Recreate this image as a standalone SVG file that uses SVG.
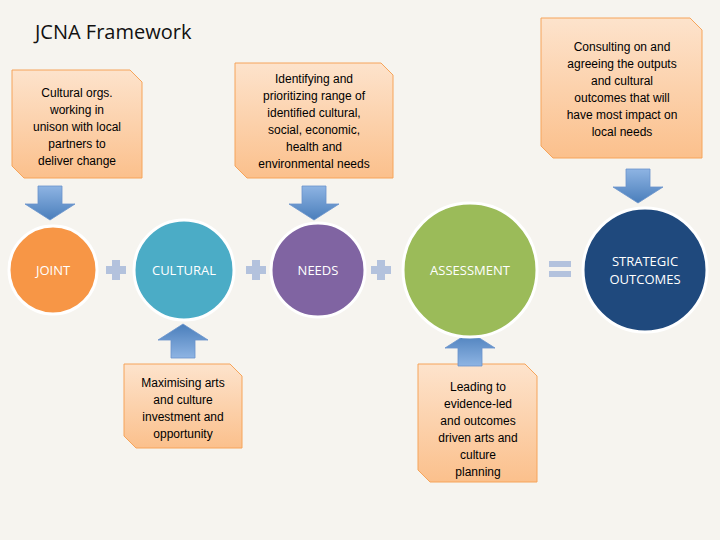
<svg xmlns="http://www.w3.org/2000/svg" width="720" height="540" viewBox="0 0 720 540">
<defs>
<linearGradient id="ng" x1="0" y1="0" x2="0" y2="1"><stop offset="0" stop-color="#fde3cc"/><stop offset="1" stop-color="#fbc08c"/></linearGradient>
<linearGradient id="ag" x1="0" y1="0" x2="0" y2="1"><stop offset="0" stop-color="#8eb4e3"/><stop offset="1" stop-color="#4a7ebb"/></linearGradient>
<linearGradient id="ug" x1="0" y1="1" x2="0" y2="0"><stop offset="0" stop-color="#8eb4e3"/><stop offset="1" stop-color="#4a7ebb"/></linearGradient>
</defs>
<style>
.note{fill:url(#ng);stroke:#f6a45a;stroke-width:1}
.nt{font-family:"Liberation Sans",Arial,sans-serif;font-size:12px;fill:#000;text-anchor:middle}
.ct{font-family:"Open Sans","Liberation Sans",sans-serif;font-size:13px;fill:#fff;text-anchor:middle}
.circ{stroke:#fff;stroke-width:3}
.op{fill:#b3c2dd}
</style>
<rect width="720" height="540" fill="#f6f4ef"/>
<text x="35" y="39" font-family="Open Sans,Liberation Sans,sans-serif" font-size="20" fill="#111">JCNA Framework</text>
<g id="note1"><path class="note" d="M12 70H130L142 82V178H24L12 166Z"/>
<text class="nt"><tspan x="77" y="97">Cultural orgs.</tspan><tspan x="77" y="114">working in</tspan><tspan x="77" y="131">unison with local</tspan><tspan x="77" y="148">partners to</tspan><tspan x="77" y="165">deliver change</tspan></text></g>
<g id="note2"><path class="note" d="M235 63H381L393 75V178H247L235 166Z"/>
<text class="nt"><tspan x="314" y="83">Identifying and</tspan><tspan x="314" y="100">prioritizing range of</tspan><tspan x="314" y="117">identified cultural,</tspan><tspan x="314" y="134">social, economic,</tspan><tspan x="314" y="151">health and</tspan><tspan x="314" y="168">environmental needs</tspan></text></g>
<g id="note3"><path class="note" d="M541 18H690L702 30V158H553L541 146Z"/>
<text class="nt"><tspan x="622" y="51">Consulting on and</tspan><tspan x="622" y="68">agreeing the outputs</tspan><tspan x="622" y="85">and cultural</tspan><tspan x="622" y="102">outcomes that will</tspan><tspan x="622" y="119">have most impact on</tspan><tspan x="622" y="136">local needs</tspan></text></g>
<g id="note4"><path class="note" d="M124 364H230L242 376V448H136L124 436Z"/>
<text class="nt"><tspan x="183" y="387">Maximising arts</tspan><tspan x="183" y="404">and culture</tspan><tspan x="183" y="421">investment and</tspan><tspan x="183" y="438">opportunity</tspan></text></g>
<g id="note5"><path class="note" d="M418 364H525L537 376V482H430L418 470Z"/>
<text class="nt"><tspan x="478" y="391">Leading to</tspan><tspan x="478" y="408">evidence-led</tspan><tspan x="478" y="425">and outcomes</tspan><tspan x="478" y="442">driven arts and</tspan><tspan x="478" y="459">culture</tspan><tspan x="478" y="476">planning</tspan></text></g>
<g id="connectors" fill="url(#ag)" stroke="#6a93cc" stroke-width="0.8">
<path d="M38 186H62V204H75L50 220L25 204H38Z"/>
<path d="M302 186H326V204H339L314 220L289 204H302Z"/>
<path d="M626 169H650V187H663L638 203L613 187H626Z"/>
<path fill="url(#ug)" d="M171 358H195V340H208L183 324L158 340H171Z"/>
<path fill="url(#ug)" d="M458 366H482V348H495L470 332L445 348H458Z"/>
</g>
<g id="ops" class="op">
<path d="M112 260h8v6h6v8h-6v6h-8v-6h-6v-8h6Z"/>
<path d="M252 260h8v6h6v8h-6v6h-8v-6h-6v-8h6Z"/>
<path d="M377 260h8v6h6v8h-6v6h-8v-6h-6v-8h6Z"/>
<rect x="549" y="261" width="22" height="6"/><rect x="549" y="271" width="22" height="6"/>
</g>
<g id="joint"><circle class="circ" cx="53" cy="270" r="44" fill="#f79646"/><text class="ct" x="53" y="275">JOINT</text></g>
<g id="cultural"><circle class="circ" cx="184" cy="270" r="50" fill="#4bacc6"/><text class="ct" x="184" y="275">CULTURAL</text></g>
<g id="needs"><circle class="circ" cx="318" cy="270" r="47" fill="#8064a2"/><text class="ct" x="318" y="275">NEEDS</text></g>
<g id="assessment"><circle class="circ" cx="470" cy="270" r="67" fill="#9bbb59"/><text class="ct" x="470" y="275">ASSESSMENT</text></g>
<g id="strategic"><circle class="circ" cx="645" cy="270" r="62" fill="#1f497d"/><text class="ct" x="645" y="266" font-size="14">STRATEGIC</text><text class="ct" x="645" y="284" font-size="14">OUTCOMES</text></g>
</svg>
